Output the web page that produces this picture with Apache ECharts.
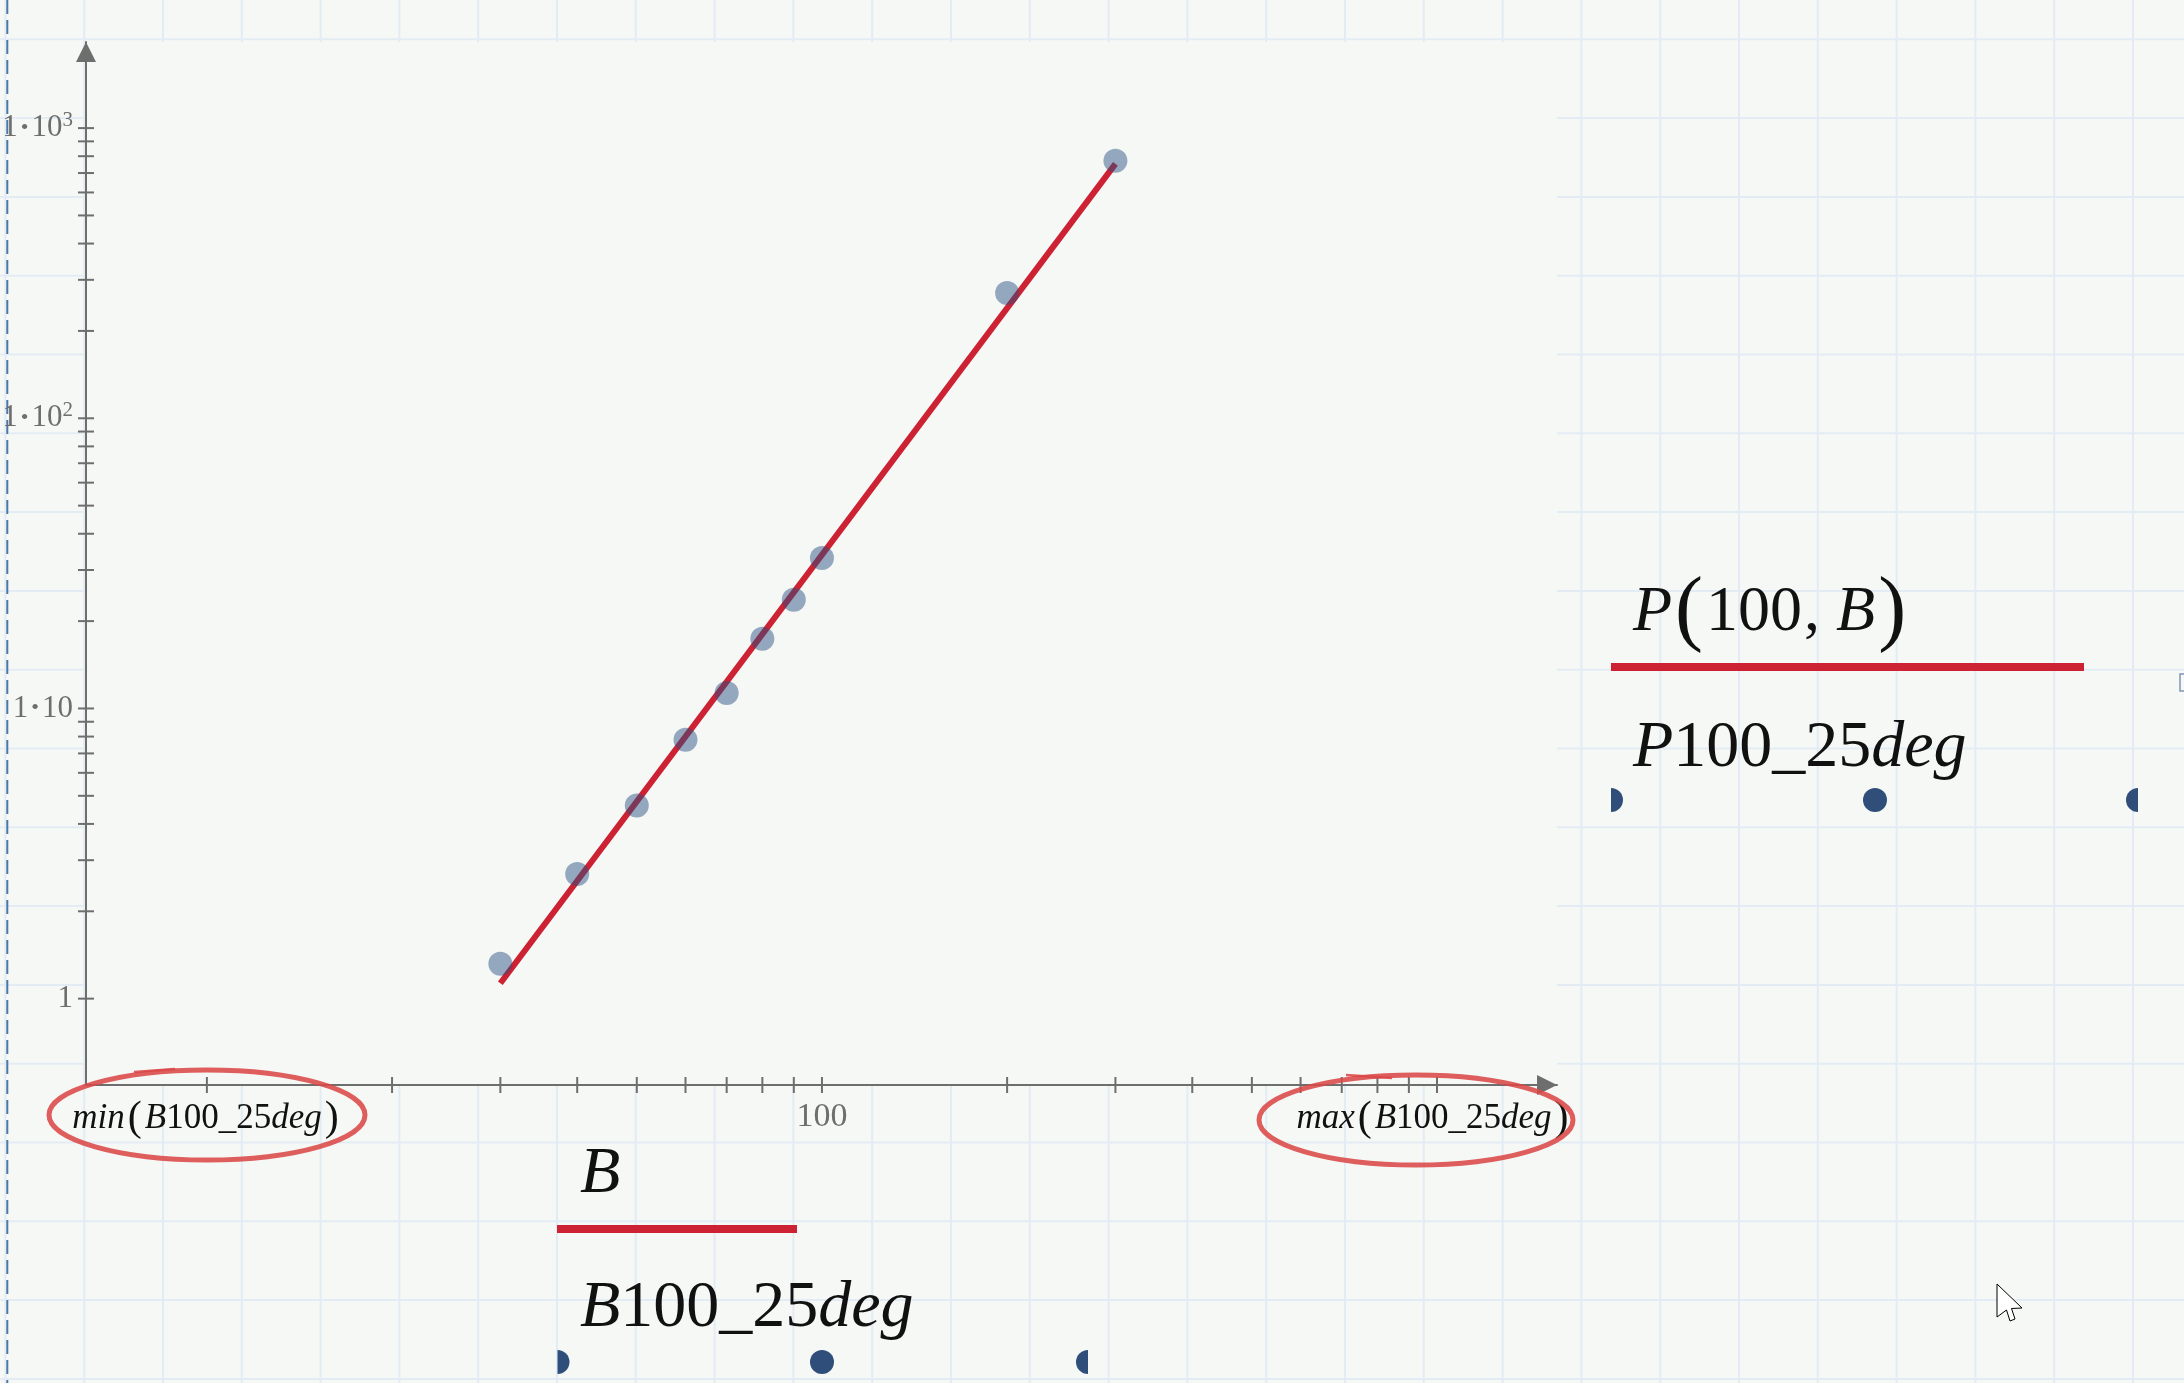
<!DOCTYPE html>
<html>
<head>
<meta charset="utf-8">
<script src="https://cdn.jsdelivr.net/npm/echarts@6/dist/echarts.min.js"></script>
<style>
html,body{margin:0;padding:0;background:#f6f8f5;overflow:hidden;}
#c{width:2184px;height:1383px;}
</style>
</head>
<body>
<div id="c"></div>
<script>
// ---- data ----
const B100_25deg = [30, 40, 50, 60, 70, 80, 90, 100, 200, 300];
const P100_25deg = [1.32, 2.69, 4.63, 7.80, 11.3, 17.4, 23.7, 33.0, 270, 772];
const fitB = [30, 300];          // P(100,B) fitted line, end points
const fitP = [1.13, 753];
const xTicks = [10, 20, 30, 40, 50, 60, 70, 80, 90, 100, 200, 300, 400, 500, 600, 700, 800, 900, 1000];
const yTicks = [1, 2, 3, 4, 5, 6, 7, 8, 9, 10, 20, 30, 40, 50, 60, 70, 80, 90, 100, 200, 300, 400, 500, 600, 700, 800, 900, 1000];
const xTickLabels = { 100: '100' };
const yTickLabels = { 1: '1', 10: '1{dot|•}10', 100: '1{dot|•}10{sup|2}', 1000: '1{dot|•}10{sup|3}' };
const X_MIN = 6.36, X_MAX = 1567;
const Y_MIN = 0.504, Y_MAX = 1980;

// ---- styling ----
const FONT = 'Liberation Serif';
const AXIS = '#6e6e6e';
const BG = '#f6f8f5';
const RED = '#cc2233';
const DOT = '#2f4e7a';
const INK = 'rgba(219,72,72,0.88)';

function pickLabel(v, table) {
  const e = Math.log10(v);
  const r = Math.round(e);
  if (Math.abs(e - r) > 1e-6) return '';
  const key = Math.pow(10, r);
  return table[key] !== undefined ? table[key] : '';
}

function mathRich(size, parenSize, commaPad) {
  return {
    i: { fontFamily: FONT, fontStyle: 'italic', fontSize: size, fill: '#111', color: '#111' },
    r: { fontFamily: FONT, fontSize: size, fill: '#111', color: '#111' },
    c: { fontFamily: FONT, fontSize: size, fill: '#111', color: '#111', padding: [0, commaPad, 0, 2] },
    p: { fontFamily: FONT, fontSize: parenSize, fill: '#111', color: '#111', padding: [0, 3, 0, 3] }
  };
}

// worksheet grid (background decoration)
const sheet = [];
for (let x = 5.4; x < 2184; x += 78.8) {
  sheet.push({ type: 'line', z: -10, silent: true, shape: { x1: x, y1: 0, x2: x, y2: 1383 }, style: { stroke: '#e3ecf4', lineWidth: 2 } });
}
for (let y = 39.3; y < 1383; y += 78.8) {
  sheet.push({ type: 'line', z: -10, silent: true, shape: { x1: 0, y1: y, x2: 2184, y2: y }, style: { stroke: '#e3ecf4', lineWidth: 2 } });
}
sheet.push({ type: 'line', z: -9, silent: true, shape: { x1: 7.3, y1: 0, x2: 7.3, y2: 1383 }, style: { stroke: '#4d77a6', lineWidth: 2, lineDash: [14, 6] } });

const deco = [
  // legend: P(100,B) / P100_25deg
  { type: 'text', z: 10, x: 1633, y: 613, style: { text: '{i|P}{p|(}{r|100}{c|,}{i|B}{p|)}', rich: mathRich(64, 84, 16), textAlign: 'left', textVerticalAlign: 'middle' } },
  { type: 'rect', z: 10, shape: { x: 1611, y: 663, width: 473, height: 8 }, style: { fill: RED } },
  { type: 'text', z: 10, x: 1633, y: 749, style: { text: '{i|P}{r|100_25}{i|deg}', rich: mathRich(66, 84, 0), textAlign: 'left', textVerticalAlign: 'middle' } },
  { type: 'sector', z: 10, shape: { cx: 1611, cy: 800, r0: 0, r: 12, startAngle: -Math.PI / 2, endAngle: Math.PI / 2 }, style: { fill: DOT } },
  { type: 'circle', z: 10, shape: { cx: 1875, cy: 800, r: 12 }, style: { fill: DOT } },
  { type: 'sector', z: 10, shape: { cx: 2138, cy: 800, r0: 0, r: 12, startAngle: Math.PI / 2, endAngle: Math.PI * 1.5 }, style: { fill: DOT } },
  { type: 'rect', z: 10, shape: { x: 2180, y: 674, width: 12, height: 17 }, style: { fill: null, stroke: '#8096b0', lineWidth: 1.5 } },
  // legend: B / B100_25deg
  { type: 'text', z: 10, x: 580, y: 1175, style: { text: '{i|B}', rich: mathRich(66, 84, 0), textAlign: 'left', textVerticalAlign: 'middle' } },
  { type: 'rect', z: 10, shape: { x: 557, y: 1225, width: 240, height: 8 }, style: { fill: RED } },
  { type: 'text', z: 10, x: 580, y: 1309, style: { text: '{i|B}{r|100_25}{i|deg}', rich: mathRich(66, 84, 0), textAlign: 'left', textVerticalAlign: 'middle' } },
  { type: 'sector', z: 10, shape: { cx: 557.5, cy: 1362, r0: 0, r: 12, startAngle: -Math.PI / 2, endAngle: Math.PI / 2 }, style: { fill: DOT } },
  { type: 'circle', z: 10, shape: { cx: 822, cy: 1362, r: 12 }, style: { fill: DOT } },
  { type: 'sector', z: 10, shape: { cx: 1088, cy: 1362, r0: 0, r: 12, startAngle: Math.PI / 2, endAngle: Math.PI * 1.5 }, style: { fill: DOT } },
  // axis limit labels
  { type: 'text', z: 10, x: 207, y: 1119, style: { text: '{i|min}{p|(}{i|B}{r|100_25}{i|deg}{p|)}', rich: mathRich(35, 42, 0), textAlign: 'center', textVerticalAlign: 'middle' } },
  { type: 'text', z: 10, x: 1434, y: 1119, style: { text: '{i|max}{p|(}{i|B}{r|100_25}{i|deg}{p|)}', rich: mathRich(35, 42, 0), textAlign: 'center', textVerticalAlign: 'middle' } },
  // hand-drawn ink circles
  { type: 'ellipse', z: 11, shape: { cx: 207, cy: 1115, rx: 158, ry: 45 }, style: { fill: null, stroke: INK, lineWidth: 5 } },
  { type: 'line', z: 11, shape: { x1: 134, y1: 1072, x2: 175, y2: 1069 }, style: { stroke: INK, lineWidth: 2.5 } },
  { type: 'ellipse', z: 11, shape: { cx: 1416, cy: 1120, rx: 157, ry: 45 }, style: { fill: null, stroke: INK, lineWidth: 5 } },
  { type: 'line', z: 11, shape: { x1: 1346, y1: 1075, x2: 1392, y2: 1078 }, style: { stroke: INK, lineWidth: 2.5 } },
  // mouse cursor
  { type: 'polygon', z: 12, shape: { points: [[1997, 1284], [1997, 1317], [2006.5, 1310], [2010, 1321], [2015, 1319], [2011.5, 1308.5], [2022, 1308]] }, style: { fill: '#ffffff', stroke: '#000000', lineWidth: 1 } }
];

const chart = echarts.init(document.getElementById('c'), null, { renderer: 'canvas' });

const option = {
  backgroundColor: BG,
  animation: false,
  grid: { left: 86, top: 42, right: 627, bottom: 298, show: true, backgroundColor: BG, borderWidth: 0, containLabel: false, outerBoundsMode: 'none' },
  xAxis: {
    type: 'log', logBase: 10, min: X_MIN, max: X_MAX,
    axisLine: { show: true, lineStyle: { color: AXIS, width: 2 }, symbol: ['none', 'triangle'], symbolSize: [20, 20], symbolOffset: [0, -10] },
    axisTick: { show: false }, minorTick: { show: false }, splitLine: { show: false }, minorSplitLine: { show: false },
    axisLabel: { margin: 15, color: AXIS, fontFamily: FONT, fontSize: 34, hideOverlap: false, formatter: v => pickLabel(v, xTickLabels) }
  },
  yAxis: {
    type: 'log', logBase: 10, min: Y_MIN, max: Y_MAX,
    axisLine: { show: true, lineStyle: { color: AXIS, width: 2 }, symbol: ['none', 'triangle'], symbolSize: [20, 20], symbolOffset: [0, -10] },
    axisTick: { show: false }, minorTick: { show: false }, splitLine: { show: false }, minorSplitLine: { show: false },
    axisLabel: {
      margin: 13, color: AXIS, fontFamily: FONT, fontSize: 31, lineHeight: 36, hideOverlap: false,
      formatter: v => pickLabel(v, yTickLabels),
      rich: {
        dot: { fontFamily: FONT, fontSize: 22, color: AXIS, lineHeight: 36, padding: [0, 3, 0, 3] },
        sup: { fontFamily: FONT, fontSize: 21, color: AXIS, lineHeight: 15, verticalAlign: 'top' }
      }
    }
  },
  graphic: { elements: sheet.concat(deco) },
  series: [
    {
      type: 'custom', name: 'xTicks', coordinateSystem: 'cartesian2d', clip: false, silent: true, z: 3,
      data: xTicks.map(v => [v, Y_MIN]),
      renderItem: (params, api) => {
        const p = api.coord([api.value(0), api.value(1)]);
        return { type: 'line', shape: { x1: p[0], y1: p[1] - 8, x2: p[0], y2: p[1] + 8 }, style: { stroke: AXIS, lineWidth: 2 } };
      }
    },
    {
      type: 'custom', name: 'yTicks', coordinateSystem: 'cartesian2d', clip: false, silent: true, z: 3,
      data: yTicks.map(v => [X_MIN, v]),
      renderItem: (params, api) => {
        const p = api.coord([api.value(0), api.value(1)]);
        return { type: 'line', shape: { x1: p[0] - 8, y1: p[1], x2: p[0] + 8, y2: p[1] }, style: { stroke: AXIS, lineWidth: 2 } };
      }
    },
    {
      type: 'line', name: 'P(100,B)', z: 4, showSymbol: false, silent: true,
      data: fitB.map((b, i) => [b, fitP[i]]),
      lineStyle: { color: RED, width: 6, cap: 'butt' }
    },
    {
      type: 'scatter', name: 'P100_25deg', z: 5, silent: true, symbolSize: 24,
      data: B100_25deg.map((b, i) => [b, P100_25deg[i]]),
      itemStyle: { color: 'rgba(40,80,130,0.6)' }
    }
  ]
};
chart.setOption(option);
</script>
</body>
</html>
